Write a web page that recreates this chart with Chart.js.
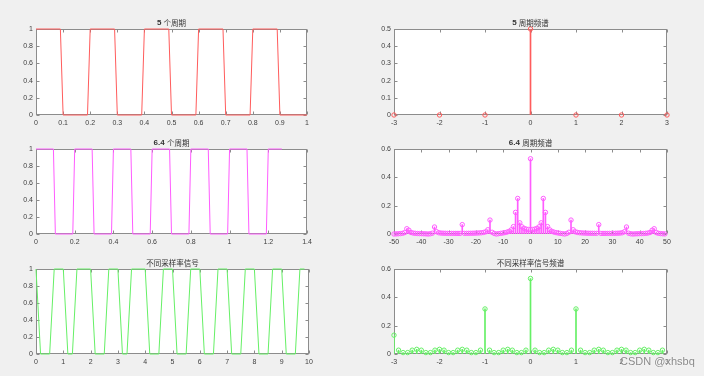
<!DOCTYPE html>
<html>
<head>
<meta charset="utf-8">
<script src="https://cdn.jsdelivr.net/npm/chart.js@4.4.1/dist/chart.umd.min.js"></script>
<style>
  html, body { margin: 0; padding: 0; background: #f0f0f0; }
  #fig { position: relative; width: 704px; height: 376px; overflow: hidden; }
  #fig canvas { position: absolute; }
  #mark { position: absolute; left: 620px; top: 355px; font: 11px "Liberation Sans", Arial, sans-serif; color: #8a8a8a; text-shadow: 0 0 2px #fff; }
</style>
</head>
<body>
<div id="fig">
  <canvas id="c1"></canvas>
  <canvas id="c2"></canvas>
  <canvas id="c3"></canvas>
  <canvas id="c4"></canvas>
  <canvas id="c5"></canvas>
  <canvas id="c6"></canvas>
  <div id="mark">CSDN @xhsbq</div>
</div>
<script>
// 数据：5 个周期（拐点）
const t1 = [0, 0.09, 0.1, 0.19, 0.2, 0.29, 0.3, 0.39, 0.4, 0.49, 0.5, 0.59, 0.6, 0.69, 0.7, 0.79, 0.8, 0.89, 0.9, 1.0];
const s1 = [1, 1, 0, 0, 1, 1, 0, 0, 1, 1, 0, 0, 1, 1, 0, 0, 1, 1, 0, 0];
const xTicks1 = [0, 0.1, 0.2, 0.3, 0.4, 0.5, 0.6, 0.7, 0.8, 0.9, 1];
const yTicks1 = [0, 0.2, 0.4, 0.6, 0.8, 1];

// 5 周期频谱
const freq2 = [-3, -2, -1, 0, 1, 2, 3];
const mag2 = [0, 0, 0, 0.5, 0, 0, 0];
const xTicks2 = [-3, -2, -1, 0, 1, 2, 3];
const yTicks2 = [0, 0.1, 0.2, 0.3, 0.4, 0.5];

// 6.4 个周期（拐点）
const t3 = [0, 0.09, 0.1, 0.19, 0.2, 0.29, 0.3, 0.39, 0.4, 0.49, 0.5, 0.59, 0.6, 0.69, 0.7, 0.79, 0.8, 0.89, 0.9, 0.99, 1.0, 1.09, 1.1, 1.19, 1.2, 1.27];
const s3 = [1, 1, 0, 0, 1, 1, 0, 0, 1, 1, 0, 0, 1, 1, 0, 0, 1, 1, 0, 0, 1, 1, 0, 0, 1, 1];
const xTicks3 = [0, 0.2, 0.4, 0.6, 0.8, 1, 1.2, 1.4];
const yTicks3 = [0, 0.2, 0.4, 0.6, 0.8, 1];

// 6.4 周期频谱
const freq4 = [-50, -49.22, -48.44, -47.66, -46.88, -46.09, -45.31, -44.53, -43.75, -42.97, -42.19, -41.41, -40.63, -39.84, -39.06, -38.28,
  -37.5, -36.72, -35.94, -35.16, -34.38, -33.59, -32.81, -32.03, -31.25, -30.47, -29.69, -28.91, -28.13, -27.34, -26.56, -25.78,
  -25, -24.22, -23.44, -22.66, -21.88, -21.09, -20.31, -19.53, -18.75, -17.97, -17.19, -16.41, -15.63, -14.84, -14.06, -13.28,
  -12.5, -11.72, -10.94, -10.16, -9.38, -8.59, -7.81, -7.03, -6.25, -5.47, -4.69, -3.91, -3.13, -2.34, -1.56, -0.78,
  0, 0.78, 1.56, 2.34, 3.13, 3.91, 4.69, 5.47, 6.25, 7.03, 7.81, 8.59, 9.38, 10.16, 10.94, 11.72,
  12.5, 13.28, 14.06, 14.84, 15.63, 16.41, 17.19, 17.97, 18.75, 19.53, 20.31, 21.09, 21.88, 22.66, 23.44, 24.22,
  25, 25.78, 26.56, 27.34, 28.13, 28.91, 29.69, 30.47, 31.25, 32.03, 32.81, 33.59, 34.38, 35.16, 35.94, 36.72,
  37.5, 38.28, 39.06, 39.84, 40.63, 41.41, 42.19, 42.97, 43.75, 44.53, 45.31, 46.09, 46.88, 47.66, 48.44, 49.22];
const mag4 = [0, 0.0008, 0.0017, 0.0029, 0.005, 0.0097, 0.0372, 0.0265, 0.0104, 0.0066, 0.0048, 0.0037, 0.0029, 0.0023, 0.0017, 0.001,
  0, 0.0016, 0.0057, 0.0495, 0.0161, 0.0087, 0.0066, 0.0057, 0.0051, 0.0047, 0.0045, 0.0044, 0.0043, 0.0043, 0.0043, 0.0043,
  0.0663, 0.0046, 0.0047, 0.005, 0.0052, 0.0056, 0.0061, 0.0067, 0.0076, 0.0089, 0.0111, 0.0154, 0.03, 0.0984, 0.0121, 0.0037,
  0, 0.0025, 0.0046, 0.0069, 0.0097, 0.0135, 0.0192, 0.0294, 0.0523, 0.1527, 0.251, 0.0788, 0.0507, 0.0398, 0.0346, 0.032,
  0.5313, 0.032, 0.0346, 0.0398, 0.0507, 0.0788, 0.251, 0.1527, 0.0523, 0.0294, 0.0192, 0.0135, 0.0097, 0.0069, 0.0046, 0.0025,
  0, 0.0037, 0.0121, 0.0984, 0.03, 0.0154, 0.0111, 0.0089, 0.0076, 0.0067, 0.0061, 0.0056, 0.0052, 0.005, 0.0047, 0.0046,
  0.0663, 0.0043, 0.0043, 0.0043, 0.0043, 0.0044, 0.0045, 0.0047, 0.0051, 0.0057, 0.0066, 0.0087, 0.0161, 0.0495, 0.0057, 0.0016,
  0, 0.001, 0.0017, 0.0023, 0.0029, 0.0037, 0.0048, 0.0066, 0.0104, 0.0265, 0.0372, 0.0097, 0.005, 0.0029, 0.0017, 0.0008];
const xTicks4 = [-50, -40, -30, -20, -10, 0, 10, 20, 30, 40, 50];
const yTicks4 = [0, 0.2, 0.4, 0.6];

// 不同采样率信号（拐点）
const t5 = [0, 0.167, 0.5, 0.667, 1, 1.167, 1.333, 1.5, 2, 2.167, 2.5, 2.667, 3, 3.167, 3.333, 3.5, 4, 4.167, 4.5, 4.667,
  5, 5.167, 5.5, 5.667, 6, 6.167, 6.5, 6.667, 7, 7.167, 7.5, 7.667, 8, 8.167, 8.5, 8.667, 9, 9.167, 9.5, 9.667, 9.833];
const s5 = [1, 0, 0, 1, 1, 0, 0, 1, 1, 0, 0, 1, 1, 0, 0, 1, 1, 0, 0, 1,
  1, 0, 0, 1, 1, 0, 0, 1, 1, 0, 0, 1, 1, 0, 0, 1, 1, 0, 0, 1, 1];
const xTicks5 = [0, 1, 2, 3, 4, 5, 6, 7, 8, 9, 10];
const yTicks5 = [0, 0.2, 0.4, 0.6, 0.8, 1];

// 不同采样率信号频谱
const freq6 = [-3, -2.9, -2.8, -2.7, -2.6, -2.5, -2.4, -2.3, -2.2, -2.1, -2, -1.9, -1.8, -1.7, -1.6, -1.5, -1.4, -1.3, -1.2, -1.1,
  -1, -0.9, -0.8, -0.7, -0.6, -0.5, -0.4, -0.3, -0.2, -0.1, 0, 0.1, 0.2, 0.3, 0.4, 0.5, 0.6, 0.7, 0.8, 0.9,
  1, 1.1, 1.2, 1.3, 1.4, 1.5, 1.6, 1.7, 1.8, 1.9, 2, 2.1, 2.2, 2.3, 2.4, 2.5, 2.6, 2.7, 2.8, 2.9];
const mag6 = [0.133, 0.027, 0.01, 0.01, 0.027, 0.033, 0.027, 0.01, 0.01, 0.027, 0.033, 0.027, 0.01, 0.01, 0.027, 0.033, 0.027, 0.01, 0.01, 0.027,
  0.318, 0.027, 0.01, 0.01, 0.027, 0.033, 0.027, 0.01, 0.01, 0.027, 0.533, 0.027, 0.01, 0.01, 0.027, 0.033, 0.027, 0.01, 0.01, 0.027,
  0.318, 0.027, 0.01, 0.01, 0.027, 0.033, 0.027, 0.01, 0.01, 0.027, 0.033, 0.027, 0.01, 0.01, 0.027, 0.033, 0.027, 0.01, 0.01, 0.027];
const xTicks6 = [-3, -2, -1, 0, 1, 2, 3];
const yTicks6 = [0, 0.2, 0.4, 0.6];

// 样式
const RED = "#ff5c5c";
const MAGENTA = "#ff5cff";
const GREEN = "#66f066";
const tickFont = { family: "'Liberation Sans', Arial, sans-serif", size: 7 };

// 坐标区背景、边框、内向刻度和标题
const axesBox = {
  id: "axesBox",
  beforeDraw(chart) {
    const a = chart.chartArea;
    const ctx = chart.ctx;
    ctx.save();
    ctx.fillStyle = "#ffffff";
    ctx.fillRect(a.left, a.top, a.right - a.left, a.bottom - a.top);
    ctx.restore();
  },
  beforeDatasetsDraw(chart) {
    const a = chart.chartArea;
    const ctx = chart.ctx;
    const sx = chart.scales.x;
    const sy = chart.scales.y;
    const L = Math.round(a.left) + 0.5, R = Math.round(a.right) - 0.5;
    const T = Math.round(a.top) + 0.5, B = Math.round(a.bottom) - 0.5;
    ctx.save();
    ctx.strokeStyle = "#8c8c8c";
    ctx.lineWidth = 1;
    ctx.strokeRect(L, T, R - L, B - T);
    ctx.beginPath();
    sx.ticks.forEach((tk) => {
      const px = Math.round(sx.getPixelForValue(tk.value)) + 0.5;
      ctx.moveTo(px, B); ctx.lineTo(px, B - 3);
      ctx.moveTo(px, T); ctx.lineTo(px, T + 3);
    });
    sy.ticks.forEach((tk) => {
      const py = Math.round(sy.getPixelForValue(tk.value)) + 0.5;
      ctx.moveTo(L, py); ctx.lineTo(L + 3, py);
      ctx.moveTo(R, py); ctx.lineTo(R - 3, py);
    });
    ctx.stroke();
    ctx.restore();
  },
  afterDraw(chart, args, opts) {
    const a = chart.chartArea;
    const ctx = chart.ctx;
    // ASCII 部分加粗，中文部分常规
    const runs = opts.text.match(/[\x00-\x7f]+|[^\x00-\x7f]+/g);
    const fontOf = (r) => /^[\x00-\x7f]+$/.test(r)
      ? "bold 8px 'Liberation Sans', Arial, sans-serif"
      : "7.5px 'Noto Sans CJK SC', sans-serif";
    ctx.save();
    let total = 0;
    runs.forEach((r) => { ctx.font = fontOf(r); total += ctx.measureText(r).width; });
    let x = (a.left + a.right) / 2 - total / 2;
    const y = a.top - 6;
    ctx.textBaseline = "middle";
    ctx.fillStyle = "#333333";
    runs.forEach((r) => {
      ctx.font = fontOf(r);
      ctx.fillText(r, x, y);
      x += ctx.measureText(r).width;
    });
    ctx.restore();
  },
};

const makeScale = (min, max, ticks, isX) => ({
  type: "linear",
  min: min,
  max: max,
  offset: false,
  afterBuildTicks: (s) => { s.ticks = ticks.map((v) => ({ value: v })); },
  afterFit: (s) => { if (isX) s.height = 22; else s.width = 40; },
  grid: { display: false, drawTicks: false, offset: false },
  border: { display: false },
  ticks: {
    color: "#404040",
    font: tickFont,
    padding: isX ? 4 : 3,
    maxRotation: 0,
    autoSkip: false,
    callback: (v) => String(v),
  },
});

const lineSet = (xs, ys, color) => ({
  type: "line",
  data: xs.map((x, i) => ({ x: x, y: ys[i] })),
  borderColor: color,
  borderWidth: 1,
  pointRadius: 0,
  tension: 0,
  clip: false,
});

const stemSets = (xs, ys, color, radius) => [
  {
    type: "scatter",
    data: xs.map((x, i) => ({ x: x, y: ys[i] })),
    pointStyle: "circle",
    pointRadius: radius,
    pointBorderWidth: 1,
    pointBorderColor: color,
    pointBackgroundColor: "rgba(0,0,0,0)",
    clip: false,
  },
  {
    type: "bar",
    data: xs.map((x, i) => ({ x: x, y: ys[i] })),
    backgroundColor: color,
    barThickness: 1,
    borderWidth: 0,
    grouped: false,
  },
];

const drawAxes = (id, box, title, datasets, xRange, xTicks, yRange, yTicks) => {
  const [L, T, W, H] = box;
  const canvas = document.getElementById(id);
  canvas.width = W + 52;
  canvas.height = H + 42;
  canvas.style.left = L - 40 + "px";
  canvas.style.top = T - 20 + "px";
  return new Chart(canvas, {
    type: "scatter",
    data: { datasets: datasets },
    options: {
      responsive: false,
      animation: false,
      devicePixelRatio: 1,
      layout: { padding: { left: 0, right: 12, top: 20, bottom: 0 } },
      plugins: {
        legend: { display: false },
        tooltip: { enabled: false },
        axesBox: { text: title },
      },
      scales: {
        x: makeScale(xRange[0], xRange[1], xTicks, true),
        y: makeScale(yRange[0], yRange[1], yTicks, false),
      },
    },
    plugins: [axesBox],
  });
};

drawAxes("c1", [36, 29, 271, 86], "5 个周期", [lineSet(t1, s1, RED)], [0, 1], xTicks1, [0, 1], yTicks1);
drawAxes("c2", [394, 29, 273, 86], "5 周期频谱", stemSets(freq2, mag2, RED, 2.2), [-3, 3], xTicks2, [0, 0.5], yTicks2);
drawAxes("c3", [36, 149, 271, 85], "6.4 个周期", [lineSet(t3, s3, MAGENTA)], [0, 1.4], xTicks3, [0, 1], yTicks3);
drawAxes("c4", [394, 149, 273, 85], "6.4 周期频谱", stemSets(freq4, mag4, MAGENTA, 2.2), [-50, 50], xTicks4, [0, 0.6], yTicks4);
drawAxes("c5", [36, 269, 273, 85], "不同采样率信号", [lineSet(t5, s5, GREEN)], [0, 10], xTicks5, [0, 1], yTicks5);
drawAxes("c6", [394, 269, 273, 85], "不同采样率信号频谱", stemSets(freq6, mag6, GREEN, 2.2), [-3, 3], xTicks6, [0, 0.6], yTicks6);
</script>
</body>
</html>
